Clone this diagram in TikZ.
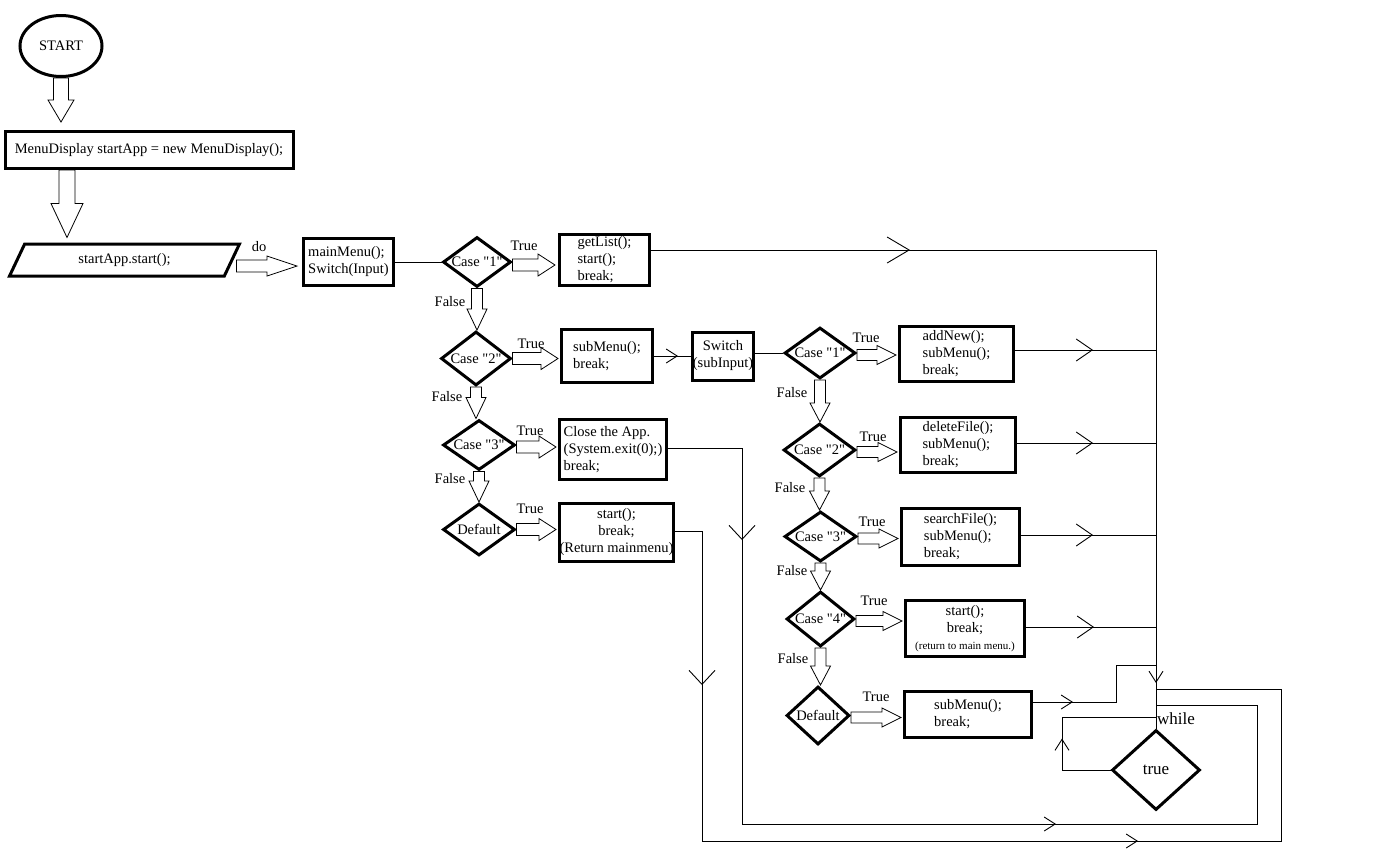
\documentclass[tikz,border=0pt]{standalone}
\usepackage{fontspec}
\setmainfont{Liberation Serif}[Ligatures=TeXOff]
\usepackage{tikz}
\usetikzlibrary{positioning}
\usetikzlibrary{shapes.geometric}
\usetikzlibrary{arrows.meta}
\usetikzlibrary{calc}
\usetikzlibrary{decorations.markings}

\tikzset{
  bigtip/.tip={Straight Barb[length=22pt, width=26pt]},
  widetip/.tip={Straight Barb[length=14pt, width=26pt]},
  midtip/.tip={Straight Barb[length=16pt, width=22pt]},
  smalltip/.tip={Straight Barb[length=11pt, width=14pt]},
  tipat/.style 2 args={postaction={decorate, decoration={markings, mark=at position #1 with {\arrow{#2}}}}},
  fatright/.style n args={3}{to path={let \p1=(\tikztostart), \p2=(\tikztotarget) in
    (\x1,\y1+#1) -- (\x2-#3,\y1+#1) -- (\x2-#3,\y1+#2) -- (\x2,\y1)
    -- (\x2-#3,\y1-#2) -- (\x2-#3,\y1-#1) -- (\x1,\y1-#1) -- cycle}},
  fatdown/.style n args={3}{to path={let \p1=(\tikztostart), \p2=(\tikztotarget) in
    (\x1-#1,\y1) -- (\x1-#1,\y2+#3) -- (\x1-#2,\y2+#3) -- (\x1,\y2)
    -- (\x1+#2,\y2+#3) -- (\x1+#1,\y2+#3) -- (\x1+#1,\y1) -- cycle}}
}

\begin{document}
\begin{tikzpicture}[x=1pt, y=-1pt]

          \tikzstyle{every node} = [font=\fontsize{14.5}{17}\selectfont];
          \tikzstyle{terminalNode} = [ellipse, draw, line width=3pt, inner sep=0pt];
          \tikzstyle{ioNode} = [trapezium, trapezium left angle=62, trapezium right angle=118, trapezium stretches=true, draw, line width=3pt, inner sep=0pt];
          \tikzstyle{processNode} = [draw, line width=3pt, inner sep=2pt, align=left];
          \tikzstyle{decisionNode} = [diamond, draw, line width=3pt, inner sep=0pt];
          \tikzstyle{labelNode} = [inner sep=1pt];

          \tikzstyle{normalEdge} = [line width=0.9pt];
          \tikzstyle{hollowEdge} = [line width=0.8pt];

          \useasboundingbox (0,0) rectangle (1381,863);
          \fill[white] (0,0) rectangle (1381,863);

          % main menu
          \node[terminalNode, minimum width=82pt, minimum height=61pt] (start) at (61,46) {START};
          \node[processNode, minimum width=288pt, minimum height=37pt] (menu) at (149,150) {MenuDisplay startApp = new MenuDisplay();};
          \node[ioNode, minimum width=230pt, minimum height=32pt] (para) at (124.5,260) {startApp.start();};
          \node[processNode, minimum width=90pt, minimum height=47pt] (mainmenu) at (348.5,262) {mainMenu();\\Switch(Input)};

          \node[decisionNode, minimum width=68pt, minimum height=50pt] (c1) at (477,262) {\makebox[0pt]{Case "1"}};
          \node[processNode, minimum width=90pt, minimum height=51pt] (getlist) at (604.5,260) {getList();\\start();\\break;};
          \node[decisionNode, minimum width=70pt, minimum height=54pt] (c2) at (476,358.5) {\makebox[0pt]{Case "2"}};
          \node[processNode, minimum width=91pt, minimum height=53pt] (submenu1) at (607,356) {subMenu();\\break;};
          \node[processNode, align=center, inner xsep=0pt, minimum width=61pt, minimum height=48pt] (switch) at (723,356) {Switch\\(subInput)};
          \node[decisionNode, minimum width=72pt, minimum height=50pt] (c3) at (479,445) {\makebox[0pt]{Case "3"}};
          \node[processNode, minimum width=107pt, minimum height=60pt] (close) at (613,449.5) {Close the App.\\(System.exit(0);)\\break;};
          \node[decisionNode, minimum width=72pt, minimum height=52pt] (c4) at (479,529.5) {\makebox[0pt]{Default}};
          \node[processNode, align=center, inner xsep=0pt, minimum width=114pt, minimum height=58pt] (ret) at (616.5,532.5) {start();\\break;\\(Return mainmenu)};

          % sub menu
          \node[decisionNode, minimum width=71pt, minimum height=51pt] (s1) at (820,353) {\makebox[0pt]{Case "1"}};
          \node[processNode, minimum width=114pt, minimum height=55pt] (addnew) at (956.5,354) {addNew();\\subMenu();\\break;};
          \node[decisionNode, minimum width=72pt, minimum height=53pt] (s2) at (819.5,450) {\makebox[0pt]{Case "2"}};
          \node[processNode, minimum width=115pt, minimum height=55pt] (delete) at (958,445) {deleteFile();\\subMenu();\\break;};
          \node[decisionNode, minimum width=72pt, minimum height=50pt] (s3) at (820.5,536.5) {\makebox[0pt]{Case "3"}};
          \node[processNode, minimum width=118pt, minimum height=57pt] (search) at (960.5,537) {searchFile();\\subMenu();\\break;};
          \node[decisionNode, minimum width=68pt, minimum height=55pt] (s4) at (820.5,619) {\makebox[0pt]{Case "4"}};
          \node[processNode, align=center, minimum width=119pt, minimum height=56pt] (start4) at (965,628.5) {start();\\break;\\{\fontsize{11}{13}\selectfont(return to main menu.)}};
          \node[decisionNode, minimum width=63pt, minimum height=58pt] (s5) at (818,715.5) {\makebox[0pt]{Default}};
          \node[processNode, minimum width=127pt, minimum height=46pt] (submenu2) at (968,714.5) {subMenu();\\break;};
          \node[decisionNode, minimum width=88pt, minimum height=80pt, font=\fontsize{17}{20}\selectfont] (while) at (1156,770) {\makebox[0pt]{true}};

          % labels
          \node[labelNode] (doLabel) at (259,247) {do};
          \node[labelNode] (t1) at (524,246) {True};
          \node[labelNode] (f1) at (450,302) {False};
          \node[labelNode] (t2) at (531,344) {True};
          \node[labelNode] (f2) at (447,397) {False};
          \node[labelNode] (t3) at (530,431) {True};
          \node[labelNode] (f3) at (450,479) {False};
          \node[labelNode] (t4) at (530,509) {True};
          \node[labelNode] (st1) at (866,338) {True};
          \node[labelNode] (sf1) at (792,393) {False};
          \node[labelNode] (st2) at (873,437) {True};
          \node[labelNode] (sf2) at (790,488) {False};
          \node[labelNode] (st3) at (872,522) {True};
          \node[labelNode] (sf3) at (792,571) {False};
          \node[labelNode] (st4) at (874,601) {True};
          \node[labelNode] (sf4) at (793,659) {False};
          \node[labelNode] (st5) at (876,697) {True};
          \node[labelNode, anchor=west, font=\fontsize{17}{20}\selectfont] (whileLabel) at (1156,719) {while};

          % corners
          \coordinate (b1) at (1156,250);
          \coordinate (b2) at (1156,350);
          \coordinate (b3) at (1156,443);
          \coordinate (b4) at (1156,535);
          \coordinate (b5) at (1156,627);
          \coordinate (k1) at (1116,702);
          \coordinate (k2) at (1116,665);
          \coordinate (h1) at (742,448);
          \coordinate (h2) at (742,824);
          \coordinate (h3) at (1257,824);
          \coordinate (h4) at (1257,705);
          \coordinate (g1) at (702,531);
          \coordinate (g2) at (702,841);
          \coordinate (g3) at (1281,841);
          \coordinate (g4) at (1281,689);
          \coordinate (l1) at (1062,717);

          % hollow arrows
          \draw[hollowEdge, fatdown={7.5pt}{13pt}{22pt}] (start.south) to ([yshift=8pt]menu.north);
          \draw[hollowEdge, fatdown={8pt}{16pt}{34pt}] ([xshift=-82pt]menu.south) to ([yshift=5pt]para.north);
          \draw[hollowEdge, fatright={6pt}{10pt}{30pt}] ([xshift=112pt,yshift=-6pt]para.center) to ([xshift=-5pt]mainmenu.west);

          \draw[hollowEdge, fatright={6pt}{11pt}{17pt}] ([yshift=-3pt]c1.east) to ([xshift=-3pt]getlist.west);
          \draw[hollowEdge, fatright={6pt}{11pt}{17pt}] (c2.east) to ([xshift=-2pt]submenu1.west);
          \draw[hollowEdge, fatright={6pt}{11pt}{17pt}] ([yshift=-2pt]c3.east) to ([xshift=-2pt]close.west);
          \draw[hollowEdge, fatright={6pt}{11pt}{17pt}] (c4.east) to ([xshift=-2pt]ret.west);
          \draw[hollowEdge, fatdown={5.5pt}{10pt}{21pt}] (c1.south) to (c2.north);
          \draw[hollowEdge, fatdown={5.5pt}{10pt}{21pt}] (c2.south) to (c3.north);
          \draw[hollowEdge, fatdown={5.5pt}{10pt}{21pt}] (c3.south) to (c4.north);

          \draw[hollowEdge, fatright={5.5pt}{9.5pt}{19pt}] ([yshift=-2pt]s1.east) to ([xshift=-2pt]addnew.west);
          \draw[hollowEdge, fatright={5.5pt}{9.5pt}{19pt}] ([yshift=-2pt]s2.east) to ([xshift=-2pt]delete.west);
          \draw[hollowEdge, fatright={5.5pt}{9.5pt}{19pt}] ([yshift=-2pt]s3.east) to ([xshift=-2pt]search.west);
          \draw[hollowEdge, fatright={5.5pt}{9.5pt}{19pt}] ([yshift=-2pt]s4.east) to ([xshift=-2pt]start4.west);
          \draw[hollowEdge, fatright={5.5pt}{9.5pt}{19pt}] ([yshift=-2pt]s5.east) to ([xshift=-2pt]submenu2.west);
          \draw[hollowEdge, fatdown={5.5pt}{10pt}{19pt}] (s1.south) to (s2.north);
          \draw[hollowEdge, fatdown={5.5pt}{10pt}{19pt}] (s2.south) to (s3.north);
          \draw[hollowEdge, fatdown={5.5pt}{10pt}{19pt}] (s3.south) to (s4.north);
          \draw[hollowEdge, fatdown={5.5pt}{10pt}{19pt}] (s4.south) to (s5.north);

          % lines
          \draw[normalEdge] (mainmenu.east) -- (c1.west);
          \draw[normalEdge, tipat={24pt}{smalltip}] (submenu1.east) -- (switch.west);
          \draw[normalEdge] (switch.east |- s1.west) -- (s1.west);
          \draw[normalEdge, tipat={259pt}{bigtip}] (getlist.east |- b1) -- (b1);
          \draw[normalEdge, tipat={433pt}{smalltip}] (b1) -- (while.north);
          \draw[normalEdge, tipat={78pt}{midtip}] (addnew.east |- b2) -- (b2);
          \draw[normalEdge, tipat={76pt}{midtip}] (delete.east |- b3) -- (b3);
          \draw[normalEdge, tipat={72pt}{midtip}] (search.east |- b4) -- (b4);
          \draw[normalEdge, tipat={68pt}{midtip}] (start4.east |- b5) -- (b5);
          \draw[normalEdge, tipat={40pt}{smalltip}] (submenu2.east |- k1) -- (k1) -- (k2) -- (k2 -| b1);
          \draw[normalEdge, tipat={166pt}{widetip}, tipat={764pt}{smalltip}] (close.east |- h1) -- (h1) -- (h2) -- (h3) -- (h4) -- (h4 -| b1);
          \draw[normalEdge, tipat={181pt}{widetip}, tipat={773pt}{smalltip}] (ret.east |- g1) -- (g1) -- (g2) -- (g3) -- (g4) -- (g4 -| b1);
          \draw[normalEdge, tipat={80pt}{smalltip}] (while.west) -- (while.west -| l1) -- (l1) -- (l1 -| b1);

        \end{tikzpicture}
\end{document}
